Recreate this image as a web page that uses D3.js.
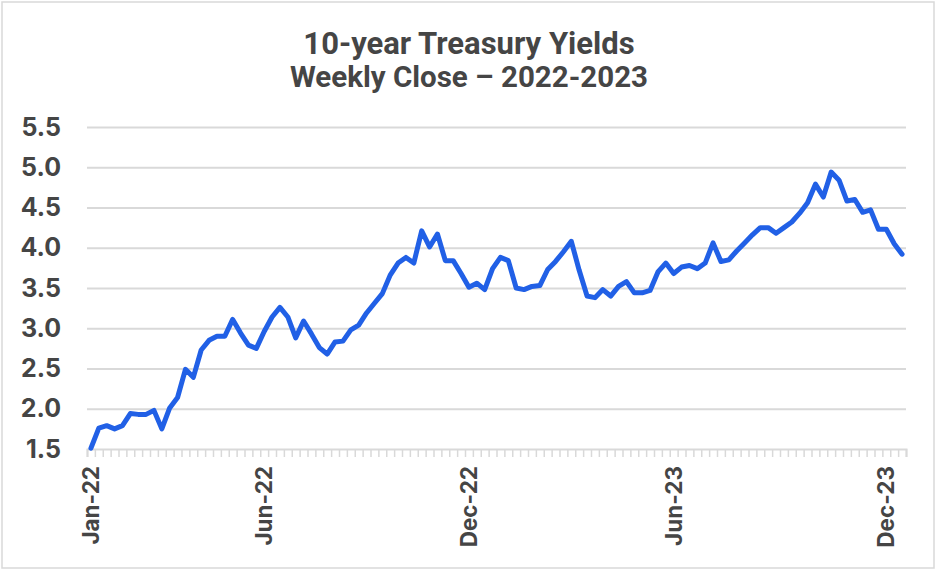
<!DOCTYPE html>
<html>
<head>
<meta charset="utf-8">
<script src="https://cdn.jsdelivr.net/npm/d3@7"></script>
<style>
  html, body { margin: 0; padding: 0; background: #fff; }
  svg { display: block; }
</style>
</head>
<body>
<svg id="chart" width="940" height="573"></svg>
<script>
// ---- Data ----
const title = "10-year Treasury Yields";
const subtitle = "Weekly Close \u2013 2022-2023";

const yields = [
  1.51, 1.76, 1.79, 1.75, 1.79, 1.94, 1.93, 1.93, 1.98, 1.75,
  2.01, 2.14, 2.49, 2.39, 2.73, 2.85, 2.90, 2.90, 3.11, 2.94,
  2.79, 2.75, 2.96, 3.14, 3.26, 3.14, 2.88, 3.09, 2.93, 2.76,
  2.68, 2.83, 2.84, 2.98, 3.04, 3.19, 3.31, 3.43, 3.66, 3.81,
  3.88, 3.81, 4.21, 4.01, 4.17, 3.84, 3.84, 3.68, 3.51, 3.56,
  3.48, 3.74, 3.88, 3.84, 3.50, 3.48, 3.52, 3.53, 3.73, 3.83,
  3.95, 4.08, 3.72, 3.40, 3.38, 3.48, 3.40, 3.52, 3.58, 3.44,
  3.44, 3.47, 3.70, 3.81, 3.68, 3.76, 3.78, 3.74, 3.81, 4.06,
  3.83, 3.85, 3.96, 4.06, 4.16, 4.25, 4.25, 4.18, 4.25, 4.32,
  4.43, 4.56, 4.79, 4.63, 4.94, 4.84, 4.58, 4.60, 4.44, 4.47,
  4.23, 4.23, 4.05, 3.92
];
const weeks = d3.range(yields.length); // weekly categories

const xLabels = ["Jan-22", "Jun-22", "Dec-22", "Jun-23", "Dec-23"];
const xLabelWeeks = [0, 22, 48, 74, 101];

const yTicks = [1.5, 2.0, 2.5, 3.0, 3.5, 4.0, 4.5, 5.0, 5.5];

// ---- Layout ----
const svg = d3.select("#chart");
const plot = { left: 87, right: 906, top: 127, bottom: 449 };
const textColor = "#454545";
const gridColor = "#d9d9d9";
const lineColor = "#2160e6";

// outer frame
svg.append("rect")
  .attr("x", 2).attr("y", 2)
  .attr("width", 932).attr("height", 566)
  .attr("fill", "#fff")
  .attr("stroke", "#d9d9d9").attr("stroke-width", 1.5);

// titles
svg.append("text")
  .attr("x", 469).attr("y", 54)
  .attr("text-anchor", "middle")
  .attr("font-family", "Roboto, 'Noto Sans', sans-serif")
  .attr("font-weight", 700).attr("font-size", 31)
  .attr("fill", textColor)
  .text(title);
svg.append("text")
  .attr("x", 469).attr("y", 87)
  .attr("text-anchor", "middle")
  .attr("font-family", "Roboto, 'Noto Sans', sans-serif")
  .attr("font-weight", 700).attr("font-size", 29.5)
  .attr("fill", textColor)
  .text(subtitle);

// scales
const xEdge = d3.scaleLinear().domain([0, weeks.length]).range([plot.left, plot.right]);
const xMid = i => xEdge(i + 0.5);
const y = d3.scaleLinear().domain([1.5, 5.5]).range([plot.bottom, plot.top]);

// y grid + labels
const yAxis = svg.append("g")
  .attr("transform", `translate(${plot.left},0)`)
  .call(d3.axisLeft(y).tickValues(yTicks).tickSize(-(plot.right - plot.left)).tickPadding(26)
    .tickFormat(d3.format(".1f")));
yAxis.select(".domain").remove();
yAxis.selectAll(".tick line")
  .attr("stroke", gridColor).attr("stroke-width", 2)
  .attr("display", d => d === 1.5 ? "none" : null);
yAxis.selectAll(".tick text")
  .attr("font-family", "Inter, 'Open Sans', sans-serif")
  .attr("font-weight", 700).attr("font-size", 25)
  .attr("fill", textColor);

// x axis with weekly tick marks
const xAxis = svg.append("g")
  .attr("transform", `translate(0,${plot.bottom})`)
  .call(d3.axisBottom(xEdge).tickValues(d3.range(weeks.length + 1)).tickSize(8).tickFormat(""));
xAxis.select(".domain").attr("stroke", gridColor).attr("stroke-width", 2);
xAxis.selectAll(".tick line").attr("stroke", gridColor).attr("stroke-width", 1.5);

// x labels (rotated)
svg.append("g").selectAll("text")
  .data(xLabels)
  .join("text")
  .attr("transform", (d, i) => `translate(${xMid(xLabelWeeks[i]) + 8},${plot.bottom + 17}) rotate(-90)`)
  .attr("text-anchor", "end")
  .attr("font-family", "Inter, 'Open Sans', sans-serif")
  .attr("font-weight", 700).attr("font-size", 22.5)
  .attr("fill", textColor)
  .text(d => d);

// line
const line = d3.line()
  .x((d, i) => xMid(weeks[i]))
  .y(d => y(d));
svg.append("path")
  .datum(yields)
  .attr("d", line)
  .attr("fill", "none")
  .attr("stroke", lineColor)
  .attr("stroke-width", 5)
  .attr("stroke-linejoin", "round")
  .attr("stroke-linecap", "round");
</script>
</body>
</html>
